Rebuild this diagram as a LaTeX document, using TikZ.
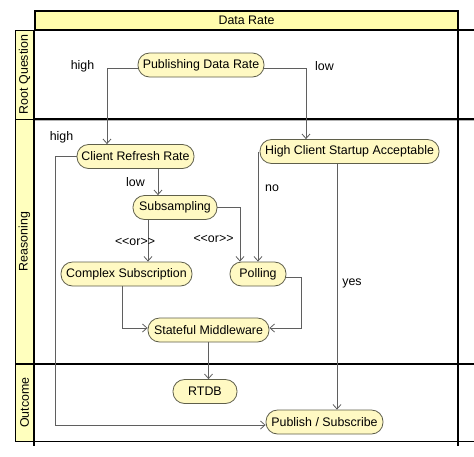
\documentclass[tikz,border=0pt]{standalone}
\usepackage{fontspec}
\setmainfont{Liberation Sans}
\usetikzlibrary{arrows.meta}
\definecolor{nodefill}{RGB}{255,249,195}
\definecolor{nodedraw}{RGB}{95,95,75}
\definecolor{lanefill}{RGB}{255,255,190}
\definecolor{headfill}{RGB}{255,252,172}
\definecolor{conncol}{RGB}{95,95,95}
\begin{document}
\begin{tikzpicture}[x=1pt,y=-1pt,
  every node/.style={font=\fontsize{12.4}{14}\selectfont},
  act/.style={draw=nodedraw, fill=nodefill, line width=0.8pt, rounded corners=11.5pt,
     minimum height=24pt, inner sep=0pt, anchor=center},
  conn/.style={draw=conncol, line width=0.8pt, -{Straight Barb[length=4.5pt,width=8pt]}},
  lbl/.style={inner sep=0pt},
  frame/.style={draw=black, line width=1.1pt},
  lanebox/.style={draw=black, fill=lanefill, line width=1pt}]
\useasboundingbox (0,0) rectangle (474,456);
\fill[white] (0,0) rectangle (474,456);

% header
\draw[fill=headfill, line width=1.1pt] (35,11) rectangle (458,30);
\node (hdr) at (246.5,20.5) {Data Rate};

% lane label boxes
\draw[lanebox] (15,30) rectangle (34,119);
\draw[lanebox] (15,119) rectangle (34,364);
\draw[lanebox] (15,364) rectangle (34,441);
\node[rotate=90] (l1) at (24.5,74.5) {Root Question};
\node[rotate=90] (l2) at (24.5,241.5) {Reasoning};
\node[rotate=90] (l3) at (24.5,402.5) {Outcome};

% frame lines
\draw[frame] (34,30) -- (474,30);
\draw[frame] (34,119) -- (474,119);
\draw[draw=gray!60, line width=0.6pt] (34,120.5) -- (474,120.5);
\draw[frame] (15,364) -- (474,364);
\draw[frame] (15,441.5) -- (474,441.5);
\draw[black, line width=1.8pt] (34,30) -- (34,446);
\draw[frame] (458,11) -- (458,446);

% activity nodes
\node[act, minimum width=126pt] (pdr) at (201,65) {Publishing Data Rate};
\node[act, minimum width=117pt] (crr) at (135.5,156.5) {Client Refresh Rate};
\node[act, minimum width=84pt] (sub) at (175,207.5) {Subsampling};
\node[act, minimum width=131pt] (cs) at (126.5,274) {Complex Subscription};
\node[act, minimum width=56pt] (poll) at (258,274) {Polling};
\node[act, minimum width=179pt] (hcsa) at (349.5,151.5) {High Client Startup Acceptable};
\node[act, minimum width=121pt] (sm) at (208.5,330) {Stateful Middleware};
\node[act, minimum width=64pt] (rtdb) at (205,391.5) {RTDB};
\node[act, minimum width=117pt] (ps) at (324.5,422) {Publish / Subscribe};

% connectors
\draw[conn] ([yshift=-3pt]pdr.west) -| ([xshift=-28.5pt]crr.north);
\draw[conn] ([yshift=-3pt]pdr.east) -| ([xshift=-43.5pt]hcsa.north);
\draw[conn] (crr.west) -- ++(-21pt,0) |- ([yshift=-3pt]ps.west);
\draw[conn] ([xshift=22.5pt]crr.south) -- ([xshift=22.5pt]crr.south |- sub.north);
\draw[conn] ([xshift=-27pt]sub.south) -- ([xshift=-27pt]sub.south |- cs.north);
\draw[conn] (sub.east) -| ([xshift=-18pt]poll.north);
\draw[conn] (hcsa.west -| poll.north) -- (poll.north);
\draw[conn] ([xshift=-12.5pt]hcsa.south) -- ([xshift=-12.5pt]hcsa.south |- ps.north);
\draw[conn] ([xshift=-4.5pt]cs.south) |- ([yshift=2pt]sm.west);
\draw[conn] ([yshift=-3pt]poll.east) -- ++(15pt,0) |- ([yshift=2pt]sm.east);
\draw[conn] (sm.south) -- (sm.south |- rtdb.north);

% labels
\node[lbl] (t1) at (82.5,66) {high};
\node[lbl] (t2) at (324.5,66) {low};
\node[lbl] (t3) at (61.5,137) {high};
\node[lbl] (t4) at (135.5,182) {low};
\node[lbl] (t5) at (135,242) {<\kern0pt<or>\kern0pt>};
\node[lbl] (t6) at (213.5,239) {<\kern0pt<or>\kern0pt>};
\node[lbl] (t7) at (272,188) {no};
\node[lbl] (t8) at (352,283) {yes};
\end{tikzpicture}
\end{document}
